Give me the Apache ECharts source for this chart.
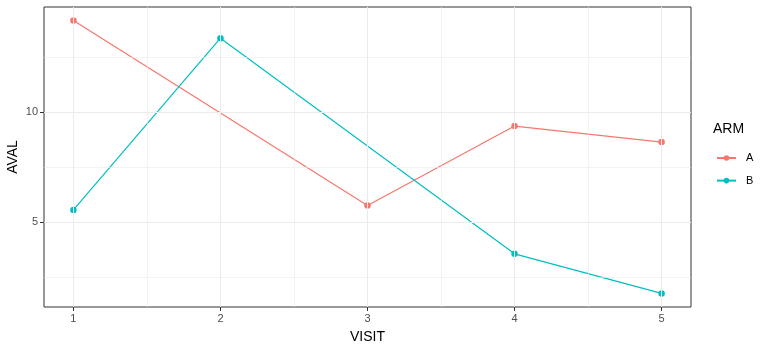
<!DOCTYPE html>
<html><head><meta charset="utf-8">
<script src="https://cdn.jsdelivr.net/npm/echarts@6/dist/echarts.min.js"></script>
<style>html,body{margin:0;padding:0;background:#fff}#c{width:766px;height:350px}</style>
</head><body><div id="c"></div>
<script>
const visits = [1, 2, 3, 4, 5];
const armA = [14.18, null, 5.76, 9.38, 8.65];
const armB = [5.56, 13.38, null, 3.56, 1.76];
const xTicks = [1, 2, 3, 4, 5];
const yTicks = [5, 10];
const xMinor = [1.5, 2.5, 3.5, 4.5];
const yMinor = [2.5, 7.5, 12.5];

const pairs = arr => visits.map((v, i) => [v, arr[i]]).filter(p => p[1] !== null);
const font = '"Liberation Sans", Arial, sans-serif';
const chart = echarts.init(document.getElementById('c'));
const gl = [];
xTicks.forEach(v => gl.push({xAxis: v, lineStyle: {width: 1}}));
yTicks.forEach(v => gl.push({yAxis: v, lineStyle: {width: 1}}));
xMinor.forEach(v => gl.push({xAxis: v, lineStyle: {width: 0.6}}));
yMinor.forEach(v => gl.push({yAxis: v, lineStyle: {width: 0.6}}));

chart.setOption({
  animation: false,
  grid: {left: 44, top: 7, right: 75, bottom: 43, outerBoundsMode: 'none', containLabel: false,
         show: true, borderColor: '#333333', borderWidth: 1, backgroundColor: '#fff'},
  legend: {
    data: ['A', 'B'], orient: 'vertical', left: 711, top: 146,
    itemWidth: 19, itemHeight: 7, itemGap: 8.6,
    textStyle: {fontFamily: font, fontSize: 11, color: '#000', lineHeight: 14, padding: [0, 0, 0, 5]}
  },
  graphic: [{type: 'text', left: 713, top: 122, style: {text: 'ARM', fontFamily: font, fontSize: 14, fill: '#000'}}],
  xAxis: {
    type: 'value', min: 0.8, max: 5.2,
    name: 'VISIT', nameLocation: 'middle', nameGap: 23, nameMoveOverlap: false,
    nameTextStyle: {fontFamily: font, fontSize: 14, color: '#000'},
    axisLine: {show: false},
    axisTick: {show: true, length: 4, lineStyle: {color: '#333333'}, customValues: xTicks},
    axisLabel: {fontFamily: font, fontSize: 11, color: '#4D4D4D', margin: 6, customValues: xTicks},
    splitLine: {show: false}
  },
  yAxis: {
    type: 'value', min: 1.14, max: 14.8,
    name: 'AVAL', nameLocation: 'middle', nameGap: 24, nameMoveOverlap: false,
    nameTextStyle: {fontFamily: font, fontSize: 14, color: '#000'},
    axisLine: {show: false},
    axisTick: {show: true, length: 4, lineStyle: {color: '#333333'}, customValues: yTicks},
    axisLabel: {fontFamily: font, fontSize: 11, color: '#4D4D4D', margin: 6, customValues: yTicks},
    splitLine: {show: false}
  },
  series: [
    {name: 'grid', type: 'line', data: [], z: 0, silent: true,
     markLine: {silent: true, symbol: ['none', 'none'], label: {show: false}, animation: false,
       lineStyle: {color: '#EBEBEB', type: 'solid'}, emphasis: {disabled: true}, data: gl}},
    {name: 'A', type: 'line', data: pairs(armA), symbol: 'circle', symbolSize: 6.5,
     itemStyle: {color: '#F8766D', borderWidth: 0}, lineStyle: {color: '#F8766D', width: 1.2}, z: 3},
    {name: 'B', type: 'line', data: pairs(armB), symbol: 'circle', symbolSize: 6.5,
     itemStyle: {color: '#00BFC4', borderWidth: 0}, lineStyle: {color: '#00BFC4', width: 1.2}, z: 3}
  ]
});
</script></body></html>
